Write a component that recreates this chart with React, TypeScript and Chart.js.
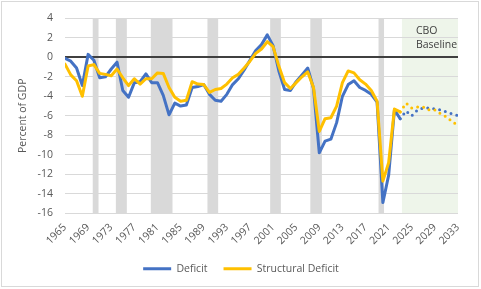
import React, { useEffect, useRef } from "react";
import { Chart, registerables } from "chart.js";

Chart.register(...registerables);

const years = [
  1965, 1966, 1967, 1968, 1969, 1970, 1971, 1972, 1973, 1974, 1975, 1976, 1977, 1978, 1979,
  1980, 1981, 1982, 1983, 1984, 1985, 1986, 1987, 1988, 1989, 1990, 1991, 1992, 1993, 1994,
  1995, 1996, 1997, 1998, 1999, 2000, 2001, 2002, 2003, 2004, 2005, 2006, 2007, 2008, 2009,
  2010, 2011, 2012, 2013, 2014, 2015, 2016, 2017, 2018, 2019, 2020, 2021, 2022, 2023, 2024,
  2025, 2026, 2027, 2028, 2029, 2030, 2031, 2032, 2033,
];

const deficit = [
  -0.1, -0.4, -1.1, -2.9, 0.3, -0.3, -2.1, -2.0, -1.2, -0.5, -3.4, -4.1, -2.6, -2.5, -1.7,
  -2.6, -2.6, -3.9, -5.9, -4.7, -5.0, -4.9, -3.1, -3.0, -2.8, -3.8, -4.4, -4.5, -3.8, -2.8,
  -2.2, -1.3, -0.3, 0.7, 1.3, 2.3, 1.2, -1.4, -3.3, -3.4, -2.5, -1.8, -1.1, -3.2, -9.8,
  -8.6, -8.4, -6.7, -4.0, -2.8, -2.4, -3.1, -3.4, -3.8, -4.6, -14.9, -12.1, -5.4, -6.3, -5.5,
  -6.0, -5.4, -5.2, -5.2, -5.3, -5.4, -5.6, -5.8, -6.0,
];

const structuralDeficit = [
  -0.7, -1.8, -2.4, -4.0, -0.9, -0.75, -1.65, -1.75, -1.9, -1.2, -2.1, -2.9, -2.2, -2.75, -2.2,
  -2.2, -1.6, -1.65, -3.1, -4.1, -4.5, -4.4, -2.5, -2.75, -2.8, -3.6, -3.3, -3.2, -2.75, -2.1,
  -1.75, -1.1, -0.4, 0.4, 0.85, 1.6, 1.1, -0.9, -2.6, -3.2, -2.6, -2.0, -1.5, -3.1, -7.6,
  -6.3, -6.2, -5.0, -2.6, -1.4, -1.6, -2.3, -2.75, -3.4, -4.5, -12.7, -10.8, -5.3, -5.6, -4.7,
  -5.2, -5.1, -5.1, -5.4, -5.4, -5.8, -6.1, -6.6, -7.0,
];

const xTickLabels = [
  1965, 1969, 1973, 1977, 1981, 1985, 1989, 1993, 1997, 2001, 2005, 2009, 2013, 2017, 2021,
  2025, 2029, 2033,
];

const recessionStart = [1969.8, 1973.8, 1979.85, 1989.65, 2000.5, 2007.45, 2019.25];
const recessionEnd = [1970.8, 1975.7, 1983.6, 1991.5, 2002.35, 2009.45, 2020.2];

const lastActualYear = 2023;
const baselineStart = 2023.3;
const baselineEnd = 2033;
const baselineLabel = ["CBO", "Baseline"];

const FONT = "'Open Sans', 'Noto Sans', sans-serif";
const FS = 10.5;
const TEXT = "#595959";

export default function App() {
  const ref = useRef<HTMLCanvasElement>(null);

  useEffect(() => {
    document.body.style.margin = "0";
    document.body.style.overflow = "hidden";
    const canvas = ref.current;
    if (!canvas) return;

    const decor = {
      id: "decor",
      afterLayout(chart: any) {
        const lg = chart.legend;
        if (lg) {
          lg.left += 12;
          lg.right += 12;
        }
      },
      beforeDraw(chart: any) {
        const { ctx, chartArea: a } = chart;
        const x = chart.scales.x;
        ctx.save();
        ctx.fillStyle = "#ffffff";
        ctx.fillRect(0, 0, chart.width, chart.height);
        const g0 = x.getPixelForValue(baselineStart);
        const g1 = x.getPixelForValue(baselineEnd);
        ctx.fillStyle = "#EEF5EA";
        ctx.fillRect(g0, a.top, g1 - g0, a.bottom - a.top);
        ctx.fillStyle = "#D9D9D9";
        recessionStart.forEach((s, i) => {
          const p0 = x.getPixelForValue(s);
          const p1 = x.getPixelForValue(recessionEnd[i]);
          ctx.fillRect(p0, a.top, p1 - p0, a.bottom - a.top);
        });
        ctx.restore();
      },
      afterDraw(chart: any) {
        const { ctx, chartArea: a } = chart;
        const x = chart.scales.x;
        ctx.save();
        const g0 = x.getPixelForValue(baselineStart);
        ctx.fillStyle = "#404040";
        ctx.font = `${FS}px ${FONT}`;
        ctx.textAlign = "left";
        ctx.textBaseline = "alphabetic";
        ctx.fillText(baselineLabel[0], g0 + 14, a.top + 16);
        ctx.fillText(baselineLabel[1], g0 + 14, a.top + 29.5);
        ctx.strokeStyle = "#D9D9D9";
        ctx.lineWidth = 1;
        ctx.strokeRect(1.5, 1.5, 477, 285);
        ctx.restore();
      },
    };

    const dotted = (c: any) => (c.p0.parsed.x >= lastActualYear ? [0, 6] : undefined);

    const chart = new Chart(canvas, {
      type: "line",
      data: {
        datasets: [
          {
            label: "Deficit",
            data: years.map((yr, i) => ({ x: yr, y: deficit[i] })),
            borderColor: "#4472C4",
            backgroundColor: "#4472C4",
            borderWidth: 3,
            pointRadius: 0,
            tension: 0,
            borderCapStyle: "round",
            borderJoinStyle: "round",
            order: 1,
            segment: { borderDash: dotted },
          },
          {
            label: "Structural Deficit",
            data: years.map((yr, i) => ({ x: yr, y: structuralDeficit[i] })),
            borderColor: "#FFC000",
            backgroundColor: "#FFC000",
            borderWidth: 3,
            pointRadius: 0,
            tension: 0,
            borderCapStyle: "round",
            borderJoinStyle: "round",
            order: 0,
            segment: { borderDash: dotted },
          },
        ],
      } as any,
      options: {
        responsive: false,
        animation: false,
        layout: { autoPadding: false, padding: { left: 0, right: 23, top: 11.7, bottom: 5 } },
        plugins: {
          tooltip: { enabled: false },
          legend: {
            position: "bottom",
            labels: {
              boxWidth: 28,
              boxHeight: 3,
              padding: 16,
              color: TEXT,
              font: { size: FS, family: FONT },
              generateLabels: (ch: any) =>
                ch.data.datasets.map((d: any, i: number) => ({
                  text: d.label,
                  fillStyle: d.borderColor,
                  strokeStyle: d.borderColor,
                  lineWidth: 0,
                  hidden: false,
                  datasetIndex: i,
                  fontColor: TEXT,
                })),
            },
          },
        },
        scales: {
          x: {
            type: "linear",
            min: 1965,
            max: 2033,
            grid: { display: false, drawTicks: false },
            border: { display: false },
            afterBuildTicks: (s: any) => {
              s.ticks = xTickLabels.map((v) => ({ value: v }));
            },
            afterFit: (s: any) => {
              s.height = 34.2;
            },
            ticks: {
              minRotation: 45,
              maxRotation: 45,
              autoSkip: false,
              padding: 8,
              color: TEXT,
              font: { size: FS, family: FONT },
              callback: (v: any) => String(v),
            },
          },
          y: {
            min: -16,
            max: 4,
            afterFit: (s: any) => {
              s.width = 65;
            },
            border: { display: false },
            grid: {
              drawTicks: false,
              color: (c: any) => (c.tick && c.tick.value === 0 ? "#404040" : "#D9D9D9"),
              lineWidth: (c: any) => (c.tick && c.tick.value === 0 ? 2 : 1),
            },
            ticks: {
              stepSize: 2,
              padding: 12,
              color: TEXT,
              font: { size: FS, family: FONT },
            },
            title: {
              display: true,
              text: "Percent of GDP",
              color: TEXT,
              font: { size: FS, family: FONT },
              padding: { top: 17, bottom: 0 },
            },
          },
        },
      } as any,
      plugins: [decor],
    });

    return () => chart.destroy();
  }, []);

  return (
    <div style={{ width: 481, height: 289 }}>
      <canvas ref={ref} width={481} height={289} style={{ width: 481, height: 289, display: "block" }} />
    </div>
  );
}
